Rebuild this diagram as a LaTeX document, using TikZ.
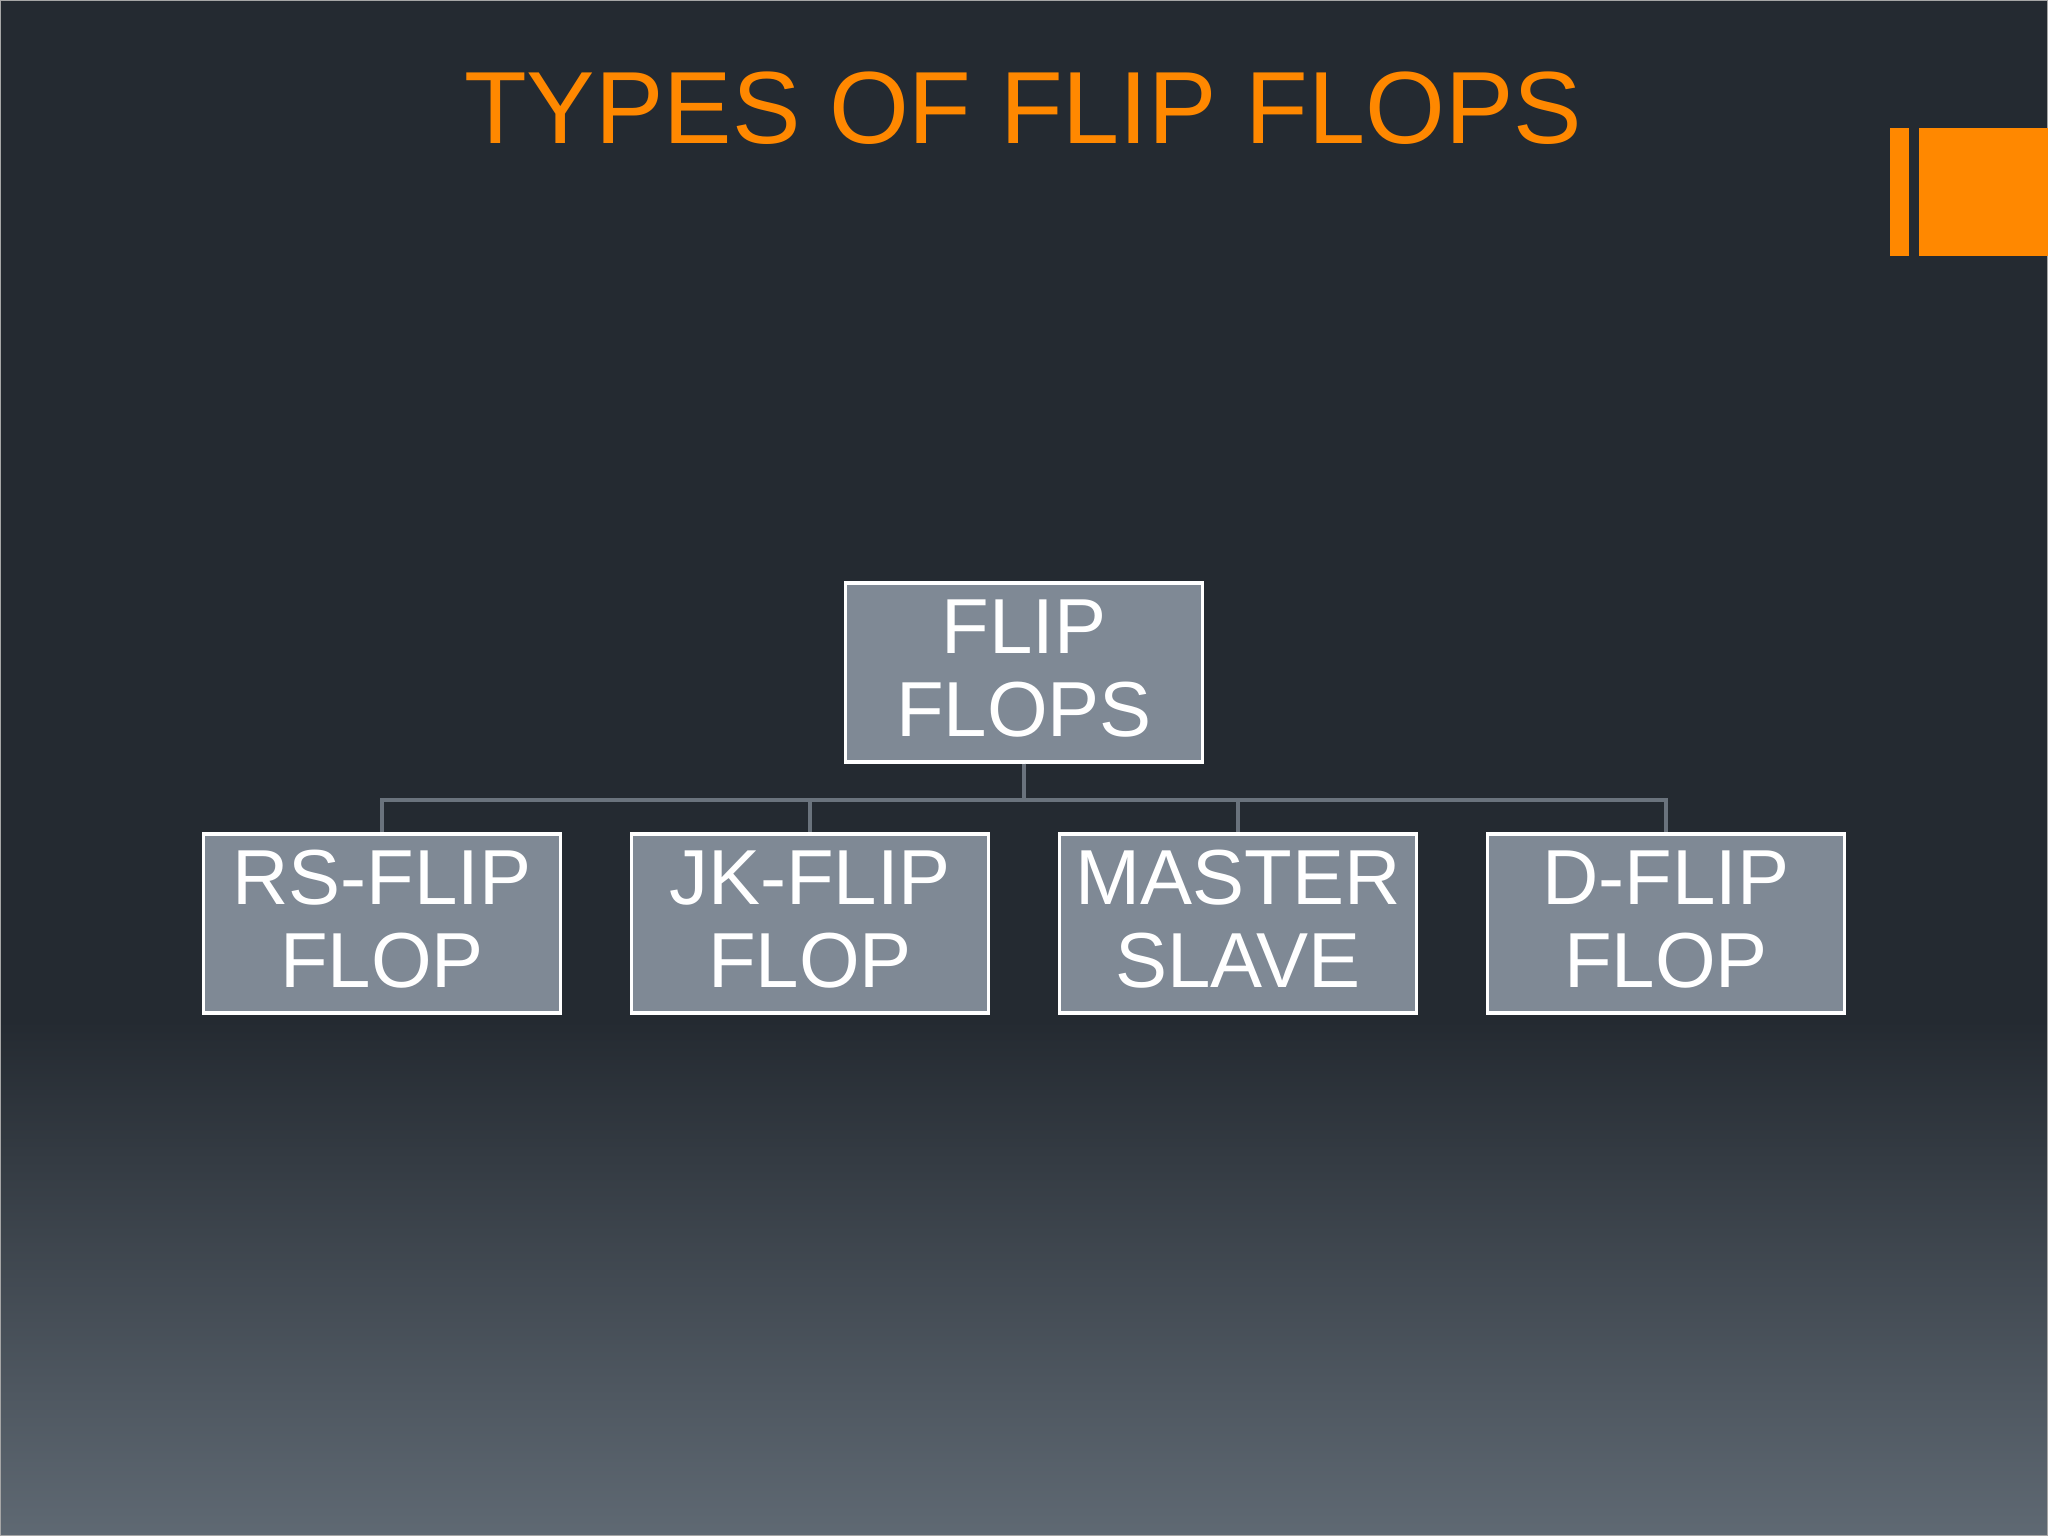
\documentclass[tikz,border=0pt]{standalone}
\usepackage{fontspec}
\setmainfont{Liberation Sans}
\usepackage{tikz}
\usetikzlibrary{trees}

\definecolor{slidedark}{HTML}{242A31}
\definecolor{slidelight}{HTML}{5F6973}
\definecolor{accent}{HTML}{FF8800}
\definecolor{boxgrey}{HTML}{7F8995}
\definecolor{linkgrey}{HTML}{6A737D}

\tikzset{
  box/.style={draw=white,line width=1pt,fill=boxgrey,text=white,
    minimum width=3.57cm,minimum height=1.79cm,inner sep=0pt,align=center,
    text height=1.5cm,text depth=0.21cm,
    font=\fontsize{22.2}{23.9}\selectfont},
  link/.style={draw=linkgrey,line width=1.2pt}
}

\begin{document}
\begin{tikzpicture}[level distance=2.51cm,sibling distance=4.28cm,
  edge from parent/.style={link},
  edge from parent path={(\tikzparentnode.south) -- +(0,-0.36) -| (\tikzchildnode.north)}]
\useasboundingbox (0,0) rectangle (20.48,-15.36);
% background
\fill[slidedark] (0,0) rectangle (20.48,-10.2);
\shade[top color=slidedark,bottom color=slidelight] (0,-10.2) rectangle (20.48,-15.36);
\draw[gray!70,line width=0.6pt] (0,0) rectangle (20.48,-15.36);
% corner bars
\fill[accent] (18.90,-1.28) rectangle (19.09,-2.56);
\fill[accent] (19.19,-1.28) rectangle (20.48,-2.56);
% title
\node[anchor=base,text=accent,font=\fontsize{29.2}{35}\selectfont] (title) at (10.23,-1.44) {TYPES OF FLIP FLOPS};
% tree
\node[box] (flipflops) at (10.24,-6.725) {FLIP\\FLOPS}
  child {node[box] (rs) {RS-FLIP\\FLOP}}
  child {node[box] (jk) {JK-FLIP\\FLOP}}
  child {node[box] (ms) {MASTER\\SLAVE}}
  child {node[box] (dff) {D-FLIP\\FLOP}};
\end{tikzpicture}
\end{document}
